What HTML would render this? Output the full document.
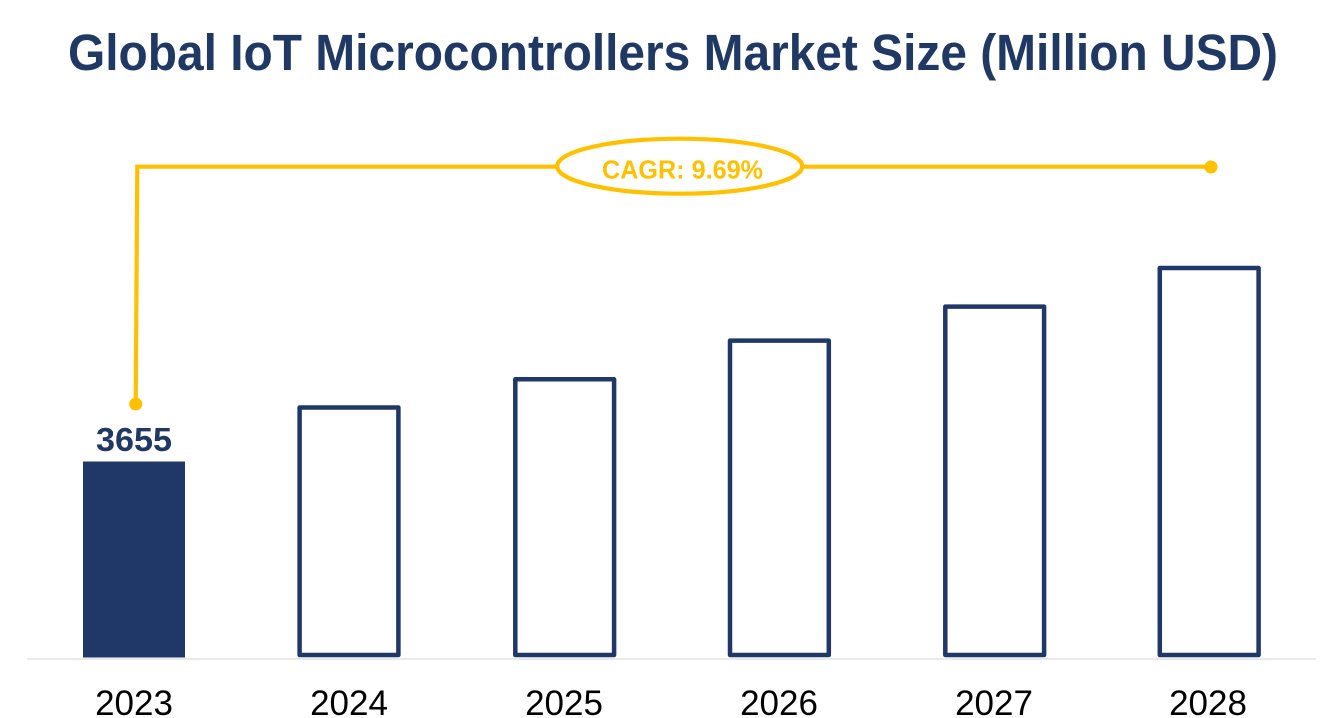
<!DOCTYPE html>
<html>
<head>
<meta charset="utf-8">
<style>
html,body{margin:0;padding:0;background:#fff;}
svg{display:block;}
</style>
</head>
<body>
<svg width="1341" height="718" viewBox="0 0 1341 718" xmlns="http://www.w3.org/2000/svg">
  <rect width="1341" height="718" fill="#ffffff"/>
  <!-- Title -->
  <text x="68" y="70" font-family="Liberation Sans, Arial, sans-serif" font-weight="bold" font-size="51" fill="#1f3864" textLength="1210" lengthAdjust="spacingAndGlyphs">Global IoT Microcontrollers Market Size (Million USD)</text>

  <!-- Axis line -->
  <line x1="27" y1="659" x2="1316" y2="659" stroke="#e3e3e3" stroke-width="1.5"/>

  <!-- Bars -->
  <rect x="83" y="461.5" width="102" height="196" fill="#1f3868"/>
  <g fill="none" stroke="#1f3868" stroke-width="4.5" stroke-linejoin="round">
    <rect x="299.6" y="407.5" width="98.8" height="247.5"/>
    <rect x="515.3" y="379.3" width="98.8" height="275.7"/>
    <rect x="730" y="340.6" width="98.8" height="314.4"/>
    <rect x="945.3" y="306.6" width="98.8" height="348.4"/>
    <rect x="1159.8" y="268" width="98.8" height="387"/>
  </g>

  <!-- Value label -->
  <text x="134" y="451" text-anchor="middle" font-family="Liberation Sans, Arial, sans-serif" font-weight="bold" font-size="33" fill="#1f3864" textLength="76" lengthAdjust="spacingAndGlyphs">3655</text>

  <!-- CAGR line -->
  <g stroke="#ffc000" stroke-width="4.2" fill="none">
    <polyline points="135.7,404 137.3,166.7 557,166.7"/>
    <line x1="802" y1="166.7" x2="1211" y2="166.7"/>
    <ellipse cx="679.7" cy="166.2" rx="122.5" ry="27.5"/>
  </g>
  <circle cx="135.7" cy="404" r="6.5" fill="#ffc000"/>
  <circle cx="1211" cy="167" r="6.5" fill="#ffc000"/>
  <text x="602" y="178.3" font-family="Liberation Sans, Arial, sans-serif" font-weight="bold" font-size="26" fill="#ffc000" textLength="161" lengthAdjust="spacingAndGlyphs">CAGR: 9.69%</text>

  <!-- Year labels -->
  <g font-family="Liberation Sans, Arial, sans-serif" font-size="35" fill="#000000" text-anchor="middle">
    <text x="134" y="715">2023</text>
    <text x="349" y="715">2024</text>
    <text x="564" y="715">2025</text>
    <text x="779" y="715">2026</text>
    <text x="994" y="715">2027</text>
    <text x="1208" y="715">2028</text>
  </g>
</svg>
</body>
</html>
